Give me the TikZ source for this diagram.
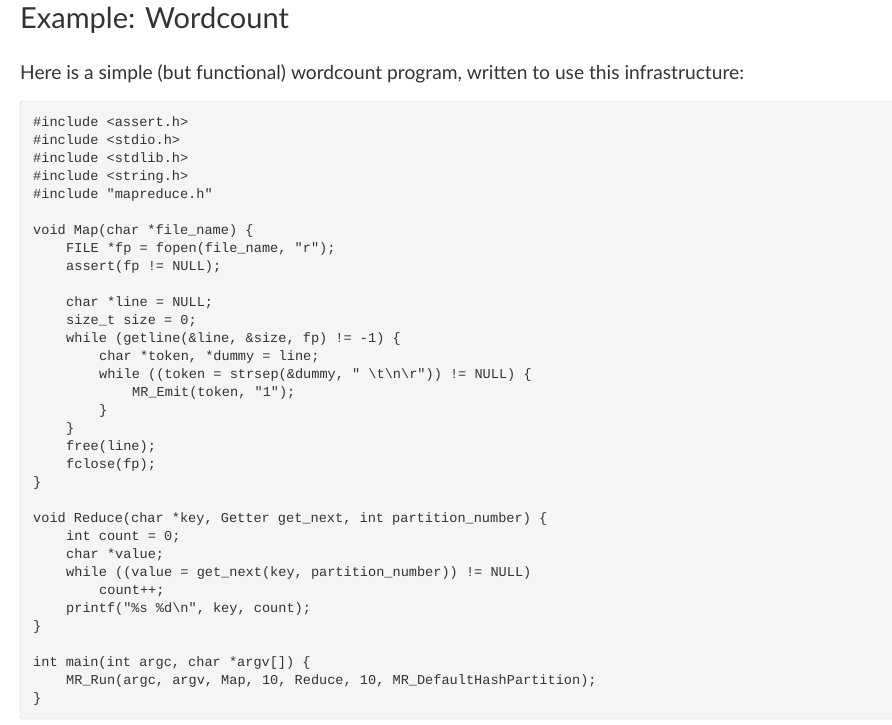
\documentclass[tikz,border=0pt]{standalone}
\usepackage{fontspec}
\setmainfont{Lato}
\newfontfamily\codefont{Liberation Mono}
\definecolor{inkgray}{HTML}{333333}
\definecolor{boxfill}{HTML}{F5F5F5}
\definecolor{boxline}{HTML}{CCCCCC}
\newcommand{\cl}[3]{\node[codeline] (l#1) at (33+33*#2,126+18*#1) {#3};}

\begin{document}
\begin{tikzpicture}[x=1pt,y=-1pt]
\tikzset{
    codeline/.style = {anchor=base west, inner sep=0pt, font=\codefont\fontsize{13.6}{16}\selectfont, text=inkgray},
    headline/.style = {anchor=base west, inner sep=0pt, text=inkgray}
}
\useasboundingbox (0,0) rectangle (892,724);

% Heading and intro
\node[headline, font=\fontsize{29}{34}\selectfont] (title) at (20,28) {Example: Wordcount};
\node[headline, font=\fontsize{19.2}{23}\selectfont] (intro) at (20,79) {Here is a simple (but functional) wordcount program, written to use this infrastructure:};

% Code box
\draw[boxline, fill=boxfill, rounded corners=3pt] (20,101) rectangle (896,719);

% Code lines
\cl{0}{0}{\#include <assert.h>}
\cl{1}{0}{\#include <stdio.h>}
\cl{2}{0}{\#include <stdlib.h>}
\cl{3}{0}{\#include <string.h>}
\cl{4}{0}{\#include "mapreduce.h"}
\cl{6}{0}{void Map(char *file\_name) \{}
\cl{7}{1}{FILE *fp = fopen(file\_name, "r");}
\cl{8}{1}{assert(fp != NULL);}
\cl{10}{1}{char *line = NULL;}
\cl{11}{1}{size\_t size = 0;}
\cl{12}{1}{while (getline(\&line, \&size, fp) != -1) \{}
\cl{13}{2}{char *token, *dummy = line;}
\cl{14}{2}{while ((token = strsep(\&dummy, " \textbackslash t\textbackslash n\textbackslash r")) != NULL) \{}
\cl{15}{3}{MR\_Emit(token, "1");}
\cl{16}{2}{\}}
\cl{17}{1}{\}}
\cl{18}{1}{free(line);}
\cl{19}{1}{fclose(fp);}
\cl{20}{0}{\}}
\cl{22}{0}{void Reduce(char *key, Getter get\_next, int partition\_number) \{}
\cl{23}{1}{int count = 0;}
\cl{24}{1}{char *value;}
\cl{25}{1}{while ((value = get\_next(key, partition\_number)) != NULL)}
\cl{26}{2}{count++;}
\cl{27}{1}{printf("\%s \%d\textbackslash n", key, count);}
\cl{28}{0}{\}}
\cl{30}{0}{int main(int argc, char *argv[]) \{}
\cl{31}{1}{MR\_Run(argc, argv, Map, 10, Reduce, 10, MR\_DefaultHashPartition);}
\cl{32}{0}{\}}
\end{tikzpicture}
\end{document}
